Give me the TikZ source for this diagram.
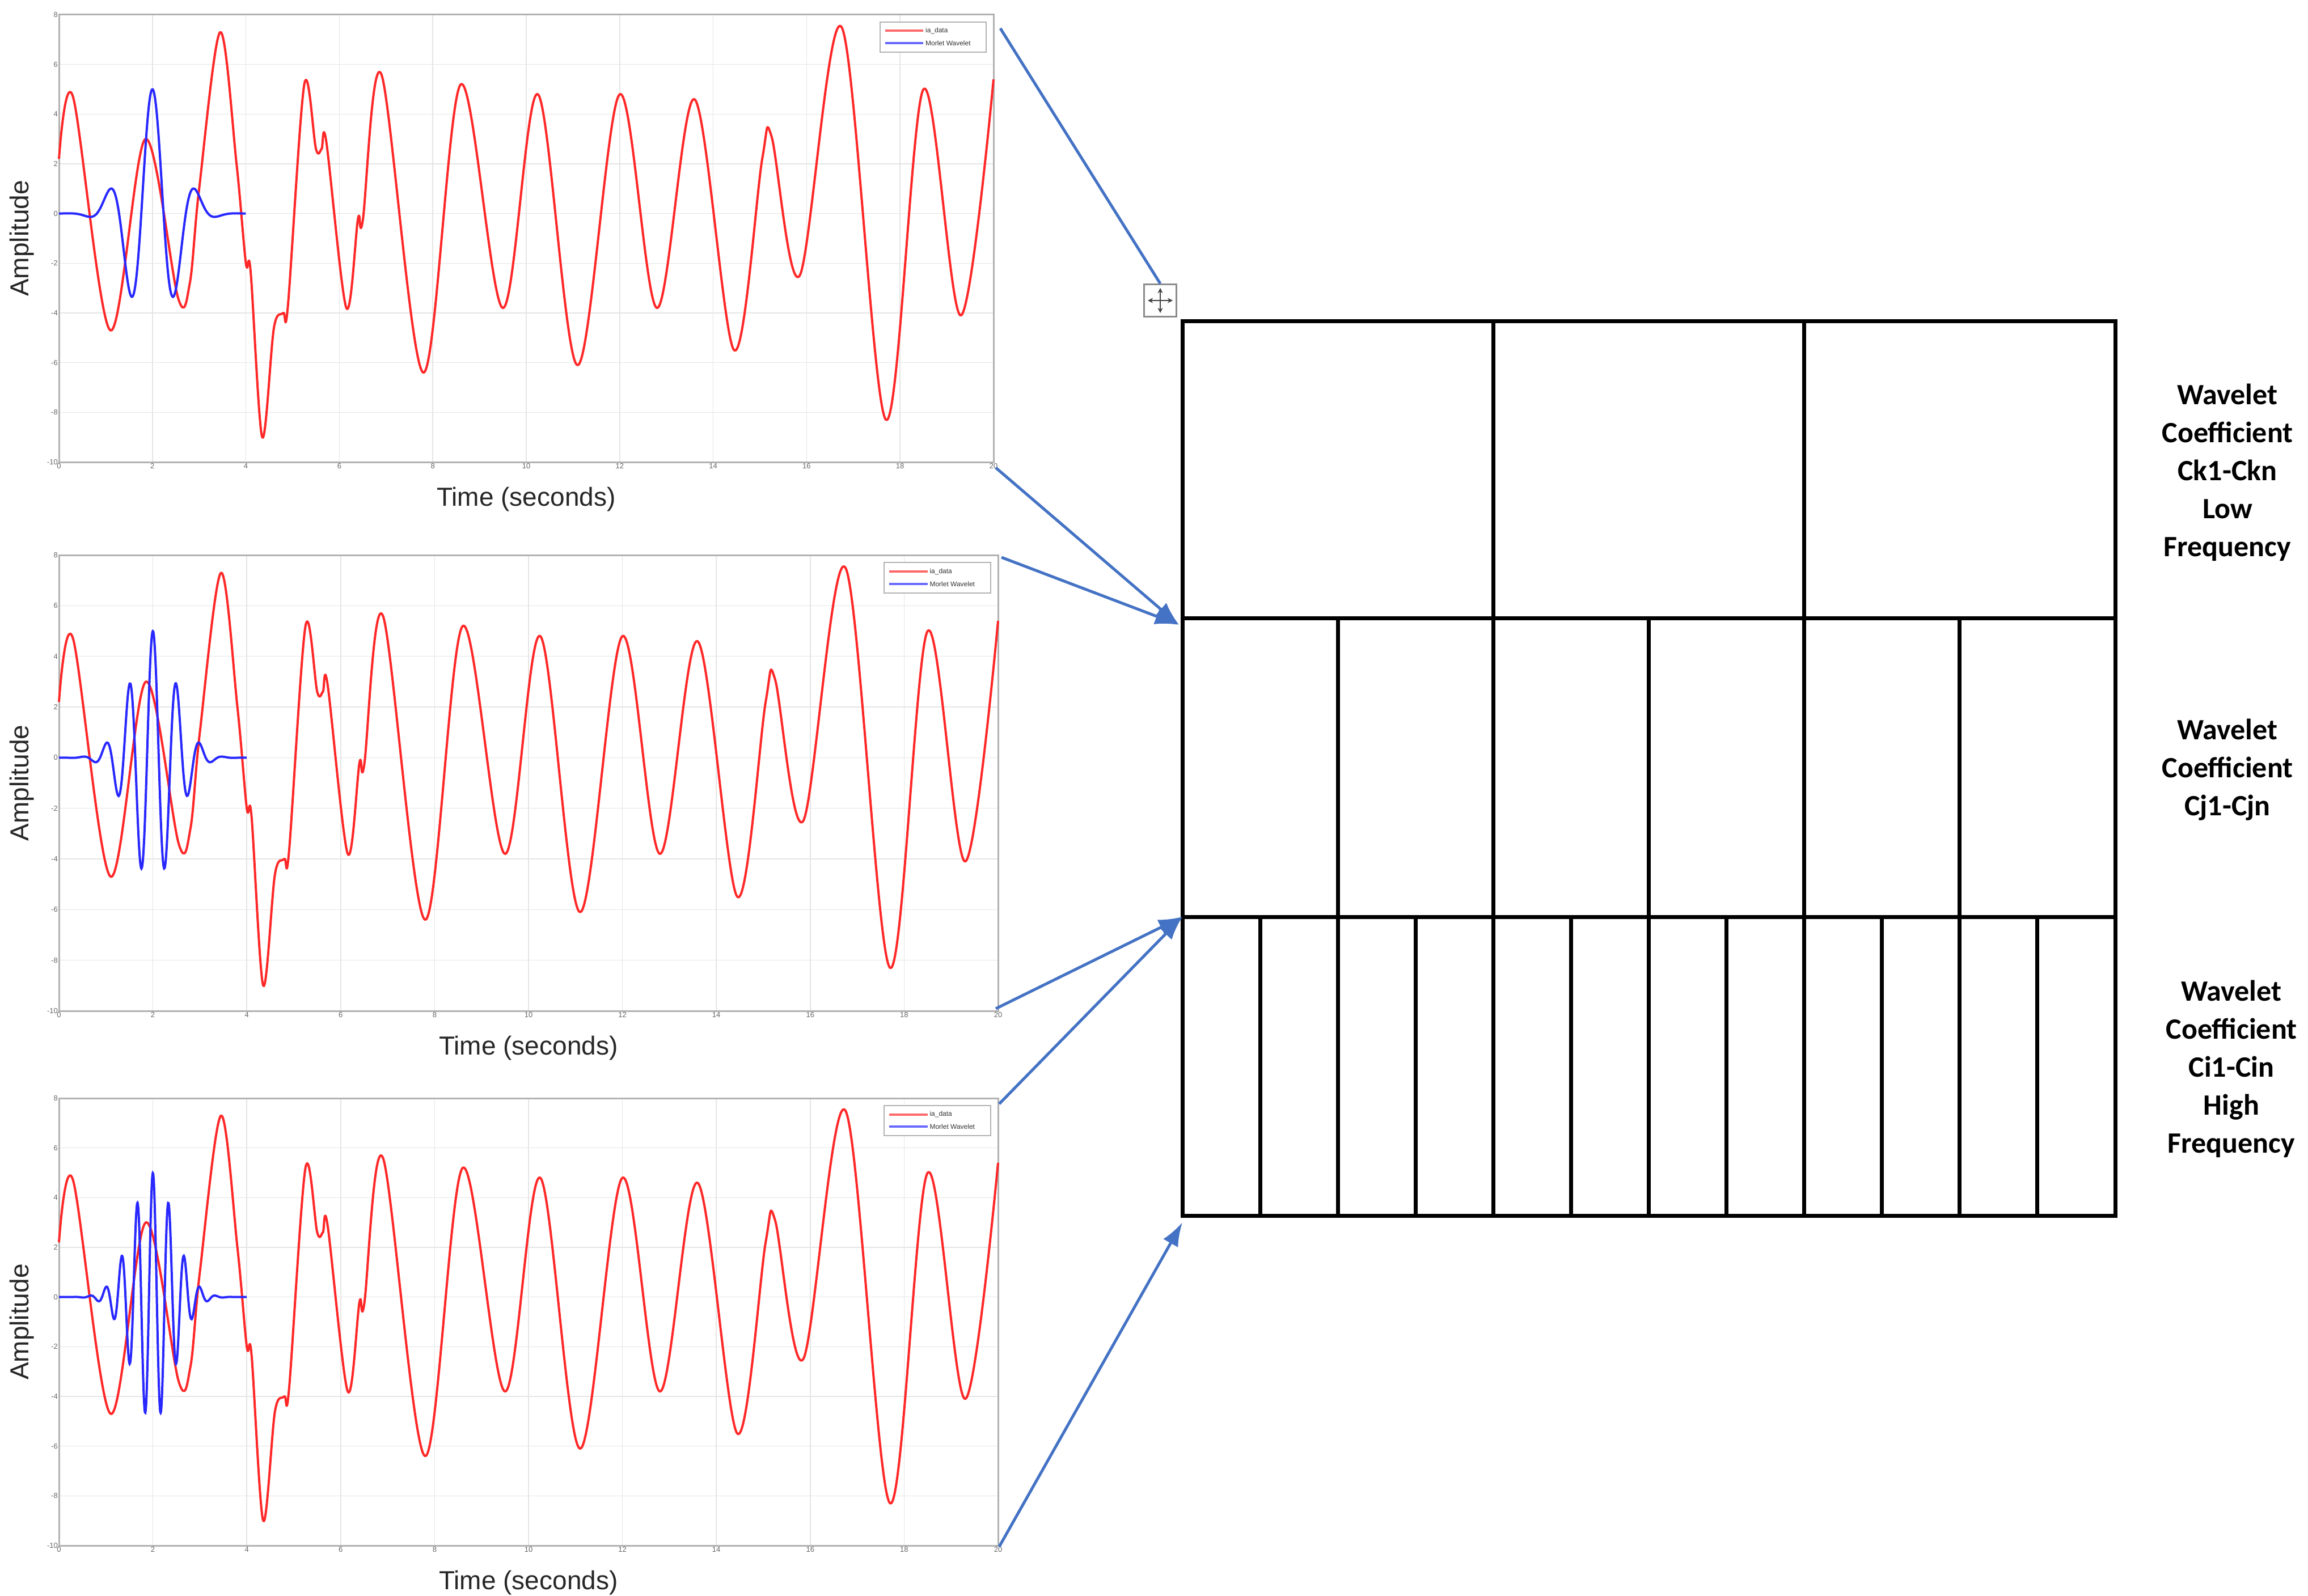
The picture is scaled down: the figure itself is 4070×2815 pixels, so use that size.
\documentclass[tikz,border=0pt]{standalone}
\usepackage{fontspec}
\setmainfont{Liberation Sans}
\newfontfamily\calib{Carlito}
\usetikzlibrary{arrows.meta}
\definecolor{arrblue}{RGB}{68,114,196}
\definecolor{sigred}{RGB}{255,40,40}
\definecolor{sigblue}{RGB}{40,40,255}
\tikzset{
  gridc/.style={draw=black!10, line width=1.5pt},
  axbox/.style={draw=black!30, line width=3pt},
  tick/.style={font=\fontsize{13}{13}\selectfont, text=black!60, inner sep=2pt},
  conn/.style={draw=arrblue, line width=5pt, -{Latex[length=42pt,width=30pt]}},
  cell/.style={draw=black, line width=7pt},
  lab/.style={font=\calib\bfseries\fontsize{52}{67}\selectfont, align=center},
  axlab/.style={font=\fontsize{46}{46}\selectfont, text=black!85},
  legt/.style={anchor=west, inner sep=1pt, font=\fontsize{12}{12}\selectfont, text=black!80},
}
\newcommand\panel[7]{%
  \pgfmathsetmacro\xs{(#2-#1)/20}
  \pgfmathsetmacro\ys{(#4-#3)/18}
  \begin{scope}[shift={(#1pt,-#4pt)}, x={(\xs pt,0pt)}, y={(0pt,\ys pt)}]
  \begin{scope}[shift={(0,10)}]
    \foreach \t in {2,4,...,18} \draw[gridc] (\t,-10) -- (\t,8);
    \foreach \v in {-8,-6,...,6} \draw[gridc] (0,\v) -- (20,\v);
    \draw[axbox] (0,-10) rectangle (20,8);
    \foreach \t in {0,2,...,20} \node[tick, below] at (\t,-10) {\t};
    \foreach \v in {-10,-8,...,8} \node[tick, left] at (0,\v) {\v};
    \draw[black!30, line width=2pt, fill=white] (17.57,7.7) rectangle (19.84,6.5);
    \draw[sigred, line width=4pt, line join=round] plot[smooth, tension=0.55] coordinates {
      (0,2.2) (0.3,4.7) (1.1,-4.7) (1.85,3.0) (2.55,-3.4) (2.8,-2.8) (3.0,1) (3.45,7.3)
      (3.8,2) (4.0,-2.0) (4.1,-2.3) (4.35,-9.0) (4.6,-4.6) (4.8,-4.0) (4.9,-3.7) (5.25,5.2)
      (5.5,2.6) (5.62,2.6) (5.72,2.9) (6.15,-3.8) (6.4,-0.2) (6.5,-0.3) (6.9,5.6)
      (7.8,-6.4) (8.6,5.2) (9.5,-3.8) (10.25,4.8) (11.1,-6.1) (12.0,4.8) (12.8,-3.8)
      (13.6,4.6) (14.45,-5.5) (15.05,2.2) (15.25,3.1) (15.85,-2.5) (16.75,7.5)
      (17.7,-8.3) (18.5,5.0) (19.3,-4.1) (20,5.4)};
    \draw[sigblue, line width=4pt] plot[domain=0:4, samples=240, smooth]
      (\x,{5*exp(-(\x-2)^2/(2*#6))*cos(360*#5*(\x-2))});
    \draw[sigred!70, line width=4pt] (17.68,7.35) -- (18.5,7.35);
    \draw[sigblue!70, line width=4pt] (17.68,6.85) -- (18.5,6.85);
    \node[legt] at (18.53,7.35) {ia\_data};
    \node[legt] at (18.53,6.85) {Morlet Wavelet};
    \coordinate (#7tr) at (20,8);
    \coordinate (#7br) at (20,-10);
  \end{scope}
  \end{scope}
  \node[axlab, rotate=90] (#7y) at (39pt,{-(#3+#4)/2*1pt}) {Amplitude};
  \node[axlab] (#7x) at ({(#1+#2)/2*1pt},{-(#4+66)*1pt}) {Time (seconds)};
}
\begin{document}
\begin{tikzpicture}[x=1pt,y=1pt]
\useasboundingbox[fill=white] (0,0) rectangle (4070,-2815);
\panel{104}{1752}{26}{815}{1.05}{0.261}{pa}
\panel{104}{1760}{979}{1783}{2}{0.229}{pb}
\panel{104}{1760}{1937}{2726}{3}{0.199}{pc}
% grid
\coordinate (g0) at (2085,-566);
\coordinate (g1) at (2085,-1090);
\coordinate (g2) at (2085,-1617);
\coordinate (g3) at (2085,-2144);
\foreach \i in {1,2} \draw[cell] ({2085+\i*548.33},-566) -- ({2085+\i*548.33},-1090);
\foreach \i in {1,...,5} \draw[cell] ({2085+\i*274.17},-1090) -- ({2085+\i*274.17},-1617);
\foreach \i in {1,...,11} \draw[cell] ({2085+\i*137.08},-1617) -- ({2085+\i*137.08},-2144);
\draw[cell] (2085,-1090) -- (3730,-1090);
\draw[cell] (2085,-1617) -- (3730,-1617);
\draw[cell] (2085,-566) rectangle (3730,-2144);
\node[lab] (l1) at (3928,-833) {Wavelet\\Coefficient\\Ck1-Ckn\\Low\\Frequency};
\node[lab] (l2) at (3928,-1358) {Wavelet\\Coefficient\\Cj1-Cjn};
\node[lab] (l3) at (3935,-1885) {Wavelet\\Coefficient\\Ci1-Cin\\High\\Frequency};
% move icon
\node[draw=black!45, fill=white, line width=2.5pt, minimum size=57pt, inner sep=0pt] (mv) at (2046,-530) {};
\draw[black!75, line width=2pt, {Stealth[length=9pt,width=9pt]}-{Stealth[length=9pt,width=9pt]}] ([xshift=-22pt]mv.center) -- ([xshift=22pt]mv.center);
\draw[black!75, line width=2pt, {Stealth[length=9pt,width=9pt]}-{Stealth[length=9pt,width=9pt]}] ([yshift=-22pt]mv.center) -- ([yshift=22pt]mv.center);
% connectors
\draw[draw=arrblue, line width=5pt] ([shift={(12pt,-24pt)}]patr) -- (mv.north);
\draw[conn] ([shift={(4pt,-10pt)}]pabr) -- ([shift={(-6pt,-12pt)}]g1);
\draw[conn] ([shift={(6pt,-4pt)}]pbtr) -- ([shift={(-6pt,-12pt)}]g1);
\draw[conn] ([shift={(-4pt,4pt)}]pbbr) -- (g2);
\draw[conn] ([shift={(2pt,-10pt)}]pctr) -- (g2);
\draw[conn] ([shift={(2pt,-2pt)}]pcbr) -- ([shift={(0pt,-12pt)}]g3);
\end{tikzpicture}
\end{document}
